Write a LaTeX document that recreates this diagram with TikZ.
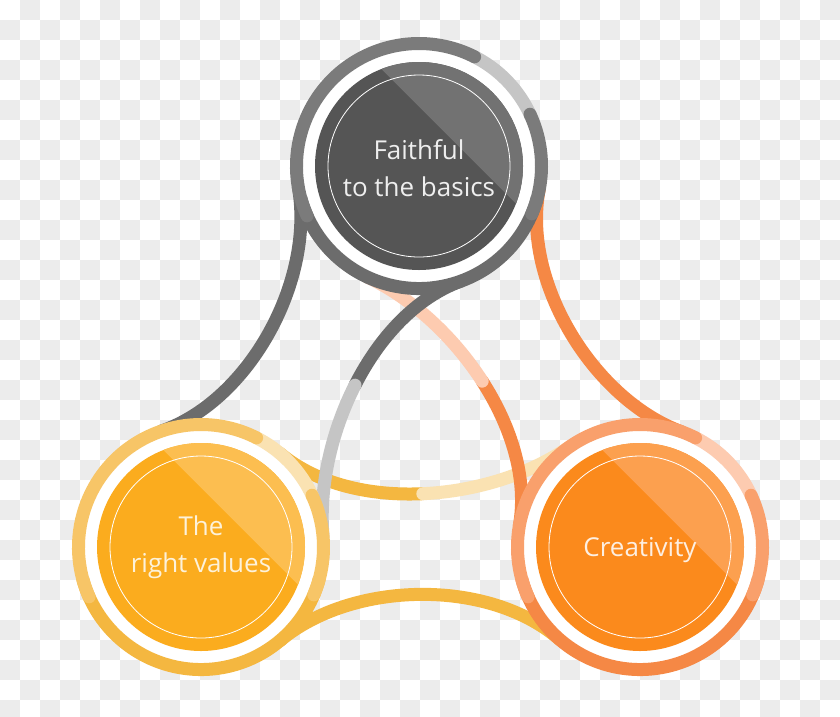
\documentclass[tikz,border=0pt]{standalone}
\usepackage{tikz}
\usepackage{xcolor}
\usepackage{fontspec}
\setmainfont{Open Sans}
\usetikzlibrary{calc}

\definecolor{checker}{RGB}{236,236,236}
\definecolor{diskbasics}{HTML}{555555}
\definecolor{shinebasics}{HTML}{727272}
\definecolor{ringbasics}{HTML}{7B7B7B}
\definecolor{darkbasics}{HTML}{6C6C6C}
\definecolor{palebasics}{HTML}{C5C5C5}
\definecolor{textbasics}{HTML}{EEEEEE}
\definecolor{diskvalues}{HTML}{FBAC1E}
\definecolor{shinevalues}{HTML}{FCBE50}
\definecolor{ringvalues}{HTML}{F7C567}
\definecolor{darkvalues}{HTML}{F4B740}
\definecolor{palevalues}{HTML}{FAE2B2}
\definecolor{textvalues}{HTML}{FDF2DA}
\definecolor{diskcreativity}{HTML}{FB8A1C}
\definecolor{shinecreativity}{HTML}{FCA04F}
\definecolor{ringcreativity}{HTML}{F9A06C}
\definecolor{darkcreativity}{HTML}{F58845}
\definecolor{palecreativity}{HTML}{FDCBB0}
\definecolor{textcreativity}{HTML}{FDEFE2}

\tikzstyle{band} = [line width=13pt, line cap=round]
\tikzstyle{flatband} = [line width=13pt, line cap=butt]
\tikzstyle{disktext} = [align=center, font=\fontsize{26}{37}\selectfont]

\begin{document}
\begin{tikzpicture}[x=1pt, y=1pt, yscale=-1]
    \useasboundingbox (0,0) rectangle (840,716);
    \fill[white] (0,0) rectangle (840,716);
    \foreach \i in {0,...,41}
        \foreach \j in {0,...,35} {
            \pgfmathparse{int(mod(\i+\j,2))}
            \ifnum\pgfmathresult=1 \fill[checker] ({20*\i},{20*\j}) rectangle +(20,20); \fi
        }

    \coordinate (basics) at (419,166);
    \coordinate (values) at (201,547);
    \coordinate (creativity) at (640,547);

    \foreach \src/\sa/\dst/\da in {values/-50/creativity/235, creativity/190/basics/115, basics/70/values/-5} {
        \coordinate (p0) at ($(\src)+(\sa:122.5)$);
        \coordinate (p3) at ($(\dst)+(\da:122.5)$);
        \coordinate (p1) at ($(p0)+({\sa+90}:96)$);
        \coordinate (p2) at ($(p3)+({\da-90}:96)$);
        \coordinate (pm) at ($0.125*(p0)+0.375*(p1)+0.375*(p2)+0.125*(p3)$);
        \draw[band, draw=dark\src] (p0) .. controls ($0.5*(p0)+0.5*(p1)$) and ($0.25*(p0)+0.5*(p1)+0.25*(p2)$) .. (pm);
        \draw[band, draw=pale\src] (pm) .. controls ($0.25*(p1)+0.5*(p2)+0.25*(p3)$) and ($0.5*(p2)+0.5*(p3)$) .. (p3);
    }

    \foreach \src/\sa/\dst/\da in {basics/170/values/251, values/50/creativity/131, creativity/290/basics/11} {
        \coordinate (q0) at ($(\src)+(\sa:122.5)$);
        \coordinate (q3) at ($(\dst)+(\da:122.5)$);
        \draw[band, draw=dark\src] (q0) .. controls ($(q0)+({\sa-90}:94)$) and ($(q3)+({\da+90}:94)$) .. (q3);
    }

    \foreach \c in {basics, values, creativity} {
        \fill[white] (\c) circle (117);
        \draw[flatband, draw=pale\c] ($(\c)+(-64:122.5)$) arc[start angle=-64, end angle=-24, radius=122.5];
        \draw[flatband, draw=dark\c] ($(\c)+(15:122.5)$) arc[start angle=15, end angle=165, radius=122.5];
        \draw[band, draw=ring\c] ($(\c)+(156:122.5)$) arc[start angle=156, end angle=297, radius=122.5];
        \draw[band, draw=ring\c] ($(\c)+(-25:122.5)$) arc[start angle=-25, end angle=23, radius=122.5];
        \fill[fill=disk\c] (\c) circle (104);
        \begin{scope}
            \clip (\c) circle (104);
            \fill[fill=shine\c, shift={(\c)}, rotate=-45] (42,-120) rectangle (160,120);
        \end{scope}
        \draw[white, line width=0.8pt] (\c) circle (91);
    }

    \node[disktext, text=textbasics] (basicstext) at ($(basics)+(0,2)$) {Faithful\\to the basics};
    \node[disktext, text=textvalues] (valuestext) at (values) {The\\right values};
    \node[disktext, text=textcreativity] (creativitytext) at ($(creativity)+(0,3)$) {Creativity};
\end{tikzpicture}
\end{document}
